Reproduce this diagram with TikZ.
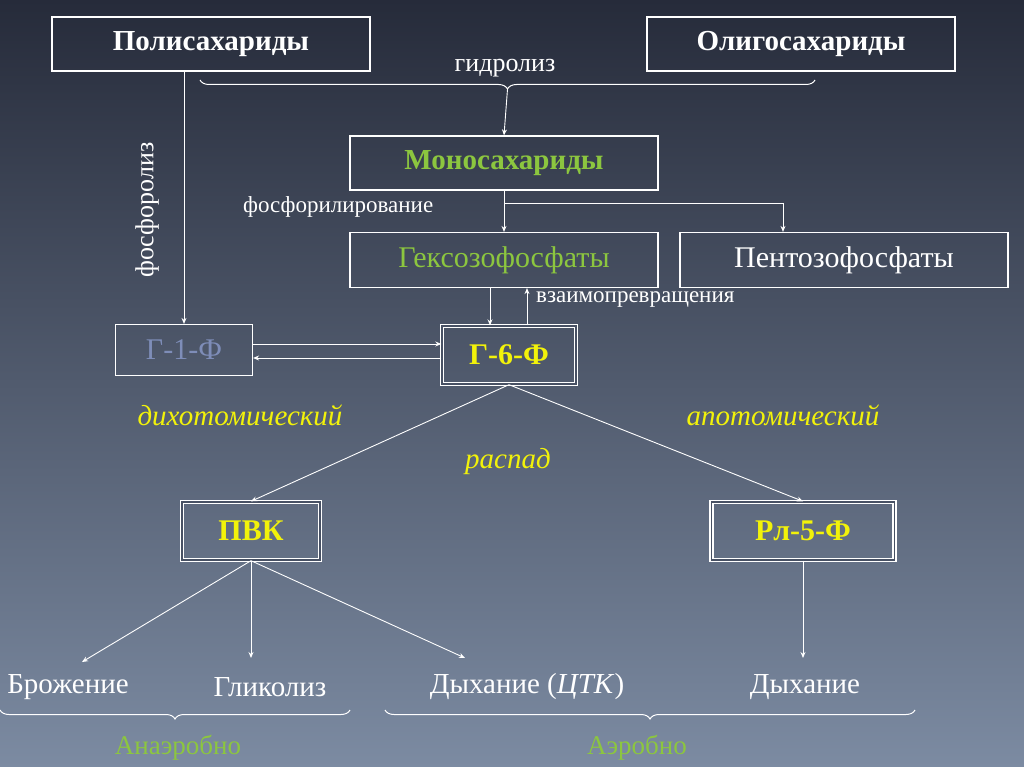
\documentclass[tikz,border=0pt]{standalone}
\usepackage{fontspec}
\setmainfont{Liberation Serif}
\usetikzlibrary{arrows.meta,positioning,calc,decorations.pathreplacing}
\definecolor{bgtop}{HTML}{262B3A}
\definecolor{bgbot}{HTML}{7C8BA2}
\definecolor{txtgreen}{HTML}{8CC63F}
\definecolor{txtyellow}{HTML}{F2F20A}
\definecolor{txtblue}{HTML}{7E8DB8}
\tikzset{box/.style={draw=white, line width=1.2pt, minimum height=54pt, inner sep=2pt, font=\fontsize{30}{32}\selectfont}}
\tikzset{fatbox/.style={draw=white, double=bgtop!60!bgbot, double distance=1.4pt, line width=1.4pt, minimum height=58pt, font=\bfseries\fontsize{30}{32}\selectfont, text=txtyellow}}
\tikzset{lbl/.style={text=white, font=\fontsize{23}{25}\selectfont, inner sep=1pt}}
\tikzset{ital/.style={text=txtyellow, font=\itshape\fontsize{29}{31}\selectfont}}
\tikzset{res/.style={text=white, font=\fontsize{29}{31}\selectfont}}
\tikzset{arr/.style={white, line width=0.9pt, -{Stealth[length=6pt,width=5pt]}}}
\tikzset{brc/.style={white, line width=1pt, decorate, decoration={brace, amplitude=9pt}}}
\begin{document}
\begin{tikzpicture}[x=1pt,y=-1pt]
    \shade[top color=bgtop, bottom color=bgbot] (0,0) rectangle (1024,767);
    \useasboundingbox (0,0) rectangle (1024,767);

    \node[box, minimum width=318pt, text=white, font=\bfseries\fontsize{29}{31}\selectfont] (poly) at (211,44) {Полисахариды};
    \node[box, minimum width=308pt, text=white, font=\bfseries\fontsize{29}{31}\selectfont] (oligo) at (801,44) {Олигосахариды};
    \node[lbl, font=\fontsize{26}{28}\selectfont] (hydro) at (505,68) {гидролиз};

    \node[box, minimum width=308pt, text=txtgreen, font=\bfseries\fontsize{29}{31}\selectfont] (mono) at (504,163) {Моносахариды};
    \node[box, minimum width=308pt, minimum height=55pt, text=txtgreen] (hexo) at (504,260) {Гексозофосфаты};
    \node[box, minimum width=328pt, minimum height=55pt, text=white] (pento) at (844,260) {Пентозофосфаты};
    \node[lbl, anchor=west] (phos) at (242,207) {фосфорилирование};

    \node[box, minimum width=137pt, minimum height=51pt, text=txtblue] (g1f) at (184,350) {Г-1-Ф};
    \node[fatbox, minimum width=134pt] (g6f) at (509,355) {Г-6-Ф};
    \node[lbl, anchor=west] (inter) at (535,300) {взаимопревращения};
    \node[lbl, font=\fontsize{26}{28}\selectfont, rotate=90] (phlys) at (147,210) {фосфоролиз};

    \node[ital] (dicho) at (240,415) {дихотомический};
    \node[ital] (apo) at (783,415) {апотомический};
    \node[ital] (decay) at (508,462) {распад};

    \node[fatbox, minimum width=138pt] (pvk) at (251,531) {ПВК};
    \node[fatbox, minimum width=183pt] (rl5f) at (803,531) {Рл-5-Ф};

    \node[res] (ferm) at (68,687) {Брожение};
    \node[res] (glyc) at (270,687) {Гликолиз};
    \node[res] (resp1) at (527,687) {Дыхание (\textit{ЦТК})};
    \node[res] (resp2) at (805,687) {Дыхание};
    \node[text=txtgreen, font=\fontsize{27}{29}\selectfont] (anaer) at (178,748) {Анаэробно};
    \node[text=txtgreen, font=\fontsize{27}{29}\selectfont] (aer) at (637,748) {Аэробно};

    % hydrolysis
    \draw[brc] (815,80) -- (200,80) coordinate[midway] (hydtip);
    \draw[arr] ([yshift=-9pt]hydtip) -- (mono.north);
    % phosphorylation
    \draw[arr] (mono.south) -- (hexo.north);
    \draw[arr] ($(mono.south)+(0,13)$) -| ([xshift=-61pt]pento.north);
    \draw[arr] (poly.south -| g1f.north) -- (g1f.north);
    \draw[arr] ([yshift=6pt]g1f.east) -- ([yshift=11pt]g6f.west);
    \draw[arr] ([yshift=-3pt]g6f.west) -- ([yshift=-8pt]g1f.east);
    \draw[arr] ([xshift=-14pt]hexo.south) -- ([xshift=-14pt]hexo.south |- g6f.north);
    \draw[arr] ([xshift=23pt]hexo.south |- g6f.north) -- ([xshift=23pt]hexo.south);
    % decay
    \draw[arr] (g6f.south) -- (pvk.north);
    \draw[arr] (g6f.south) -- (rl5f.north);
    \draw[arr] (pvk.south) -- (82,662);
    \draw[arr] (pvk.south) -- (pvk.south |- 0,658);
    \draw[arr] (pvk.south) -- (465,658);
    \draw[arr] (rl5f.south) -- (rl5f.south |- 0,658);
    % braces
    \draw[brc] (350,710) -- (0,710);
    \draw[brc] (915,710) -- (385,710);
\end{tikzpicture}
\end{document}
